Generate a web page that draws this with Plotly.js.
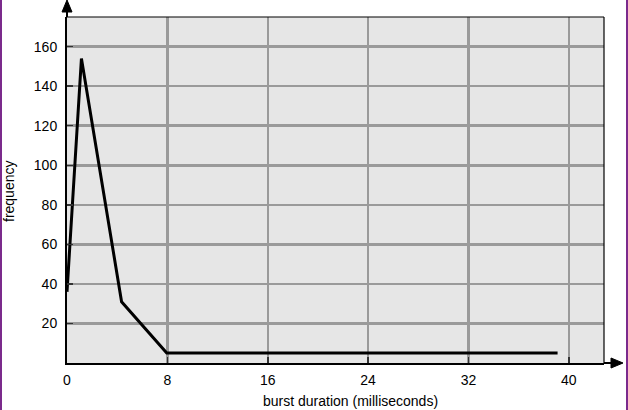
<!DOCTYPE html>
<html>
<head>
<meta charset="utf-8">
<script src="https://cdn.plot.ly/plotly-3.0.1.min.js"></script>
<style>
  html, body { margin: 0; padding: 0; background: #fff; }
  #wrap { position: relative; width: 628px; height: 410px; }
  #chart { width: 628px; height: 410px; }
  .edge { position: absolute; top: 0; width: 2px; height: 410px; background: #7b2a8c; }
</style>
</head>
<body>
<div id="wrap">
  <div id="chart"></div>
  <div class="edge" style="left:0px;"></div>
  <div class="edge" style="left:626px;"></div>
</div>
<script>
// Data
const burstDuration = [0, 1.15, 4.35, 7.95, 39.1];
const frequency = [36, 154, 31, 5, 5];
const xTickVals = [0, 8, 16, 24, 32, 40];
const yTickVals = [20, 40, 60, 80, 100, 120, 140, 160];

const W = 628, H = 410;
const mL = 67, mR = 24, mT = 17, mB = 47;
const pw = W - mL - mR, ph = H - mT - mB;
const px = x => (x - mL) / pw;
const py = y => (H - mB - y) / ph;

const font = { family: 'Liberation Sans, Arial, sans-serif', size: 14, color: '#000' };

const trace = {
  x: burstDuration,
  y: frequency,
  type: 'scatter',
  mode: 'lines',
  line: { color: '#000', width: 3 },
  hoverinfo: 'skip'
};

const layout = {
  width: W, height: H,
  margin: { l: mL, r: mR, t: mT, b: mB, pad: 0 },
  paper_bgcolor: '#fff',
  plot_bgcolor: '#e6e6e6',
  showlegend: false,
  font: font,
  xaxis: {
    range: [0, 42.8],
    tickvals: xTickVals,
    ticktext: xTickVals.map(String),
    showgrid: true, gridcolor: '#9a9a9a', gridwidth: 2.5,
    zeroline: false,
    showline: true, linecolor: '#000', linewidth: 2,
    ticks: 'inside', ticklen: 6, tickwidth: 1.5, tickcolor: '#333',
    ticklabelstandoff: 3,
    tickfont: font,
    fixedrange: true
  },
  yaxis: {
    range: [0, 175],
    tickvals: yTickVals,
    ticktext: yTickVals.map(String),
    showgrid: true, gridcolor: '#9a9a9a', gridwidth: 2.5,
    zeroline: false,
    showline: true, linecolor: '#000', linewidth: 2,
    ticks: 'inside', ticklen: 6, tickwidth: 1.5, tickcolor: '#333',
    ticklabelstandoff: 5,
    tickfont: font,
    fixedrange: true
  },
  shapes: [
    { type: 'line', xref: 'paper', yref: 'paper', x0: 0, x1: 1, y0: 1, y1: 1, line: { color: '#000', width: 1.2 } },
    { type: 'line', xref: 'paper', yref: 'paper', x0: 1, x1: 1, y0: 0, y1: 1, line: { color: '#000', width: 1.2 } },
    { type: 'line', xref: 'paper', yref: 'paper', x0: px(67), x1: px(67), y0: 1, y1: py(8), line: { color: '#000', width: 2 } },
    { type: 'line', xref: 'paper', yref: 'paper', x0: 1, x1: px(614), y0: py(363), y1: py(363), line: { color: '#000', width: 2 } },
    { type: 'path', xref: 'paper', yref: 'paper',
      path: `M ${px(67)} ${py(0)} L ${px(62)} ${py(12)} L ${px(72)} ${py(12)} Z`,
      fillcolor: '#000', line: { color: '#000', width: 1 } },
    { type: 'path', xref: 'paper', yref: 'paper',
      path: `M ${px(623)} ${py(363)} L ${px(611)} ${py(358)} L ${px(611)} ${py(368)} Z`,
      fillcolor: '#000', line: { color: '#000', width: 1 } }
  ],
  annotations: [
    { text: 'burst duration (milliseconds)', xref: 'paper', yref: 'paper',
      x: px(350), y: py(401), xanchor: 'center', yanchor: 'middle', showarrow: false, font: font },
    { text: 'frequency', xref: 'paper', yref: 'paper', textangle: -90,
      x: px(9), y: py(192), xanchor: 'center', yanchor: 'middle', showarrow: false, font: font }
  ]
};

Plotly.newPlot('chart', [trace], layout, { displayModeBar: false, staticPlot: true });
</script>
</body>
</html>
